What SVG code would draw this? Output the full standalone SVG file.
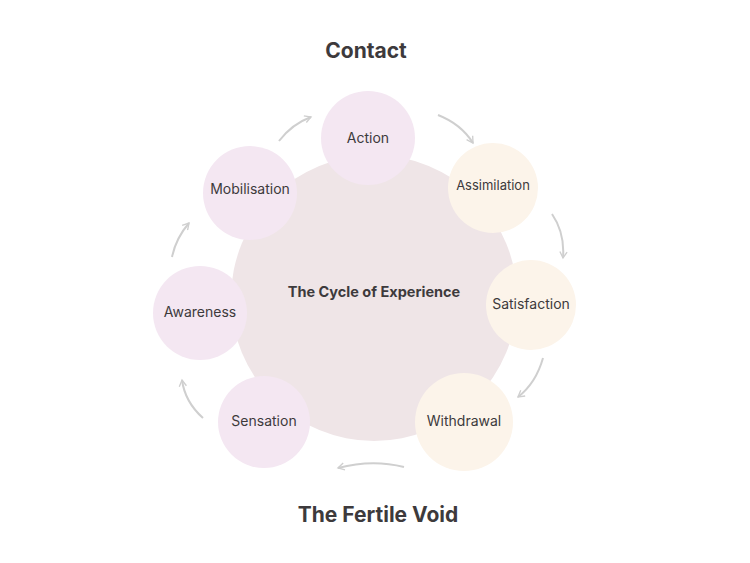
<svg xmlns="http://www.w3.org/2000/svg" width="750" height="563" viewBox="0 0 750 563">
<style>
text{font-family:Inter,"Liberation Sans",sans-serif;fill:#3d3a3c;text-anchor:middle;dominant-baseline:middle}
.n{font-size:14px}
.pink{fill:#f4e7f2}.cream{fill:#fcf4ea}
.c{fill:none;stroke:#cfcfcf;stroke-width:2;marker-end:url(#a)}
</style>
<defs><marker id="a" viewBox="0 0 10 10" refX="8" refY="5" markerWidth="9" markerHeight="9" orient="auto" markerUnits="userSpaceOnUse"><path d="M1,1L8,5L1,9" fill="none" stroke="#cfcfcf" stroke-width="1.5"/></marker></defs>
<rect width="750" height="563" fill="#fff"/>
<text x="366" y="52" style="font-size:21px;font-weight:700">Contact</text>
<text x="378" y="516" style="font-size:21px;font-weight:700">The Fertile Void</text>
<g id="center"><circle cx="374" cy="298" r="143" fill="#efe5e7"/><text x="374" y="293" style="font-size:14.5px;font-weight:700">The Cycle of Experience</text></g>
<g id="action"><circle class="pink" cx="368" cy="138" r="47"/><text class="n" x="368" y="139">Action</text></g>
<g id="assimilation"><circle class="cream" cx="493" cy="188" r="45"/><text class="n" x="493" y="186" style="font-size:13px">Assimilation</text></g>
<g id="satisfaction"><circle class="cream" cx="531" cy="305" r="45"/><text class="n" x="531" y="305">Satisfaction</text></g>
<g id="withdrawal"><circle class="cream" cx="464" cy="422" r="49"/><text class="n" x="464" y="422">Withdrawal</text></g>
<g id="sensation"><circle class="pink" cx="264" cy="422" r="46"/><text class="n" x="264" y="422">Sensation</text></g>
<g id="awareness"><circle class="pink" cx="200" cy="313" r="47"/><text class="n" x="200" y="313">Awareness</text></g>
<g id="mobilisation"><circle class="pink" cx="250" cy="193" r="47"/><text class="n" x="250" y="190">Mobilisation</text></g>
<g id="connectors">
<path class="c" d="M279,141Q292,124 311,117"/>
<path class="c" d="M438,115Q461,124 473,143"/>
<path class="c" d="M552,214Q565,233 563,258"/>
<path class="c" d="M543,358Q536,383 518,397"/>
<path class="c" d="M404,467Q372,459 338,468"/>
<path class="c" d="M203,418Q185,402 182,380"/>
<path class="c" d="M172,257Q176,238 189,223"/>
</g>
</svg>
